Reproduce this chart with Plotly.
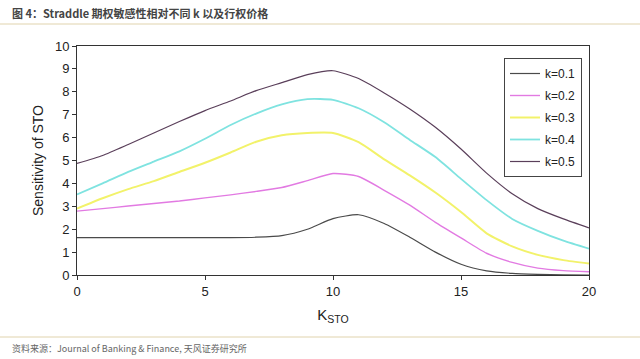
import plotly.graph_objects as go

k_strike = [0, 1, 2, 3, 4, 5, 6, 7, 8, 9, 10, 11, 12, 13, 14, 15, 16, 17, 18, 19, 20]
sens_k01 = [1.63, 1.63, 1.63, 1.63, 1.63, 1.63, 1.63, 1.65, 1.72, 2.0, 2.46, 2.63, 2.25, 1.65, 1.0, 0.47, 0.18, 0.07, 0.03, 0.01, 0.0]
sens_k02 = [2.79, 2.9, 3.01, 3.12, 3.23, 3.37, 3.5, 3.65, 3.82, 4.12, 4.43, 4.3, 3.7, 3.05, 2.3, 1.62, 0.95, 0.55, 0.3, 0.19, 0.14]
sens_k03 = [2.9, 3.35, 3.75, 4.1, 4.5, 4.9, 5.35, 5.82, 6.1, 6.2, 6.2, 5.8, 5.05, 4.35, 3.6, 2.75, 1.82, 1.25, 0.88, 0.65, 0.5]
sens_k04 = [3.52, 4.0, 4.5, 4.95, 5.4, 5.95, 6.55, 7.05, 7.45, 7.68, 7.65, 7.28, 6.67, 5.9, 5.15, 4.2, 3.27, 2.45, 1.93, 1.5, 1.15]
sens_k05 = [4.87, 5.22, 5.7, 6.2, 6.7, 7.18, 7.6, 8.05, 8.4, 8.75, 8.92, 8.58, 7.95, 7.25, 6.45, 5.5, 4.45, 3.55, 2.9, 2.45, 2.06]

series_names = ["k=0.1", "k=0.2", "k=0.3", "k=0.4", "k=0.5"]
series_vals = [sens_k01, sens_k02, sens_k03, sens_k04, sens_k05]
series_colors = ["#4a4a4a", "#e27ae2", "#f2f26a", "#7fe3e0", "#5a3f5a"]
series_widths = [1.2, 1.4, 2.0, 1.8, 1.2]

x_ticks = [0, 5, 10, 15, 20]
y_ticks = [0, 1, 2, 3, 4, 5, 6, 7, 8, 9, 10]

fig = go.Figure()
for name, vals, col, w in zip(series_names, series_vals, series_colors, series_widths):
    fig.add_trace(go.Scatter(
        x=k_strike, y=vals, name=name, mode="lines", legendgroup=name,
        line=dict(color=col, width=w, shape="spline", smoothing=0.6),
    ))

W, H = 640, 359
L, R, T, B = 77, 51, 46, 84
pw, ph = W - L - R, H - T - B

def px(x):
    return (x - L) / pw

def py(y):
    return (H - B - y) / ph

axis_font = dict(family="Liberation Sans, Arial, sans-serif", size=13, color="#222")

fig.update_layout(
    width=W, height=H,
    margin=dict(l=L, r=R, t=T, b=B, autoexpand=False),
    paper_bgcolor="white", plot_bgcolor="white",
    showlegend=True,
    legend=dict(
        x=px(504), y=py(58), xanchor="left", yanchor="top",
        bordercolor="#444", borderwidth=1, bgcolor="white",
        font=dict(family="Liberation Sans, Arial, sans-serif", size=12, color="#222"),
        tracegroupgap=3, itemwidth=30,
    ),
    xaxis=dict(
        range=[0, 20], tickvals=x_ticks, ticks="outside", ticklen=4, tickcolor="#333",
        showline=True, linecolor="#333", linewidth=1, mirror=True, showgrid=False,
        zeroline=False, tickfont=axis_font,
        title=dict(text="K<sub>STO</sub>", font=dict(family="Liberation Sans, Arial, sans-serif", size=15, color="#222"), standoff=11),
    ),
    yaxis=dict(
        range=[0, 10], tickvals=y_ticks, ticks="outside", ticklen=4, tickcolor="#333",
        showline=True, linecolor="#333", linewidth=1, mirror=True, showgrid=False,
        zeroline=False, tickfont=axis_font,
        title=dict(text="Sensitivity of STO", font=dict(family="Liberation Sans, Arial, sans-serif", size=14, color="#222"), standoff=8),
    ),
    annotations=[
        dict(text="<b>图 4：Straddle 期权敏感性相对不同 k 以及行权价格</b>",
             xref="paper", yref="paper", x=px(10), y=py(13), xanchor="left", yanchor="middle",
             showarrow=False, font=dict(family="Noto Sans CJK SC", size=11, color="#444")),
        dict(text="资料来源：Journal of Banking & Finance, 天风证券研究所",
             xref="paper", yref="paper", x=px(10), y=py(348), xanchor="left", yanchor="middle",
             showarrow=False, font=dict(family="Noto Sans CJK SC", size=9, color="#666")),
    ],
    shapes=[
        dict(type="line", xref="paper", yref="paper", x0=px(0), x1=px(640), y0=py(24), y1=py(24),
             line=dict(color="#e0d3ad", width=1)),
        dict(type="line", xref="paper", yref="paper", x0=px(0), x1=px(640), y0=py(337), y1=py(337),
             line=dict(color="#e0d3ad", width=1)),
    ],
)

fig.write_html("out.html", config={"displayModeBar": False},
               post_script="document.body.style.margin='0px';document.body.style.padding='0px';")
